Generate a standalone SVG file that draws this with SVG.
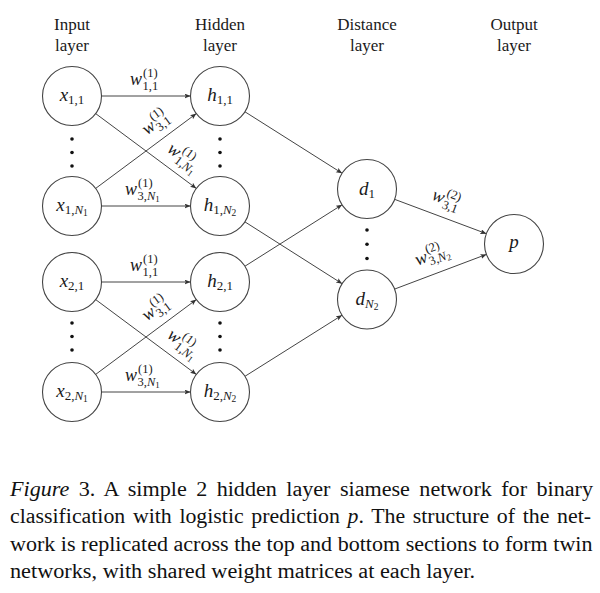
<svg xmlns="http://www.w3.org/2000/svg" width="600" height="593" viewBox="0 0 600 593" font-family="'Liberation Serif', 'DejaVu Serif', serif">
<style>
  text { font-family: "Liberation Serif", "DejaVu Serif", serif; fill: #1a1a1a; }
  .hdr { font-size: 17px; text-anchor: middle; }
  .node circle { fill: #fff; stroke: #444; stroke-width: 1.1; }
  .lbl { font-size: 19px; text-anchor: middle; }
  .i { font-style: italic; }
  .s { font-size: 13px; }
  .ss { font-size: 9.5px; }
  .w { font-size: 18px; }
  .ws { font-size: 12.5px; }
  .wss { font-size: 9px; }
  .conn line { stroke: #444; stroke-width: 1; marker-end: url(#arr); }
  .dots circle { fill: #111; }
  .cap { font-size: 20px; fill: #111; }
</style>
<defs>
  <marker id="arr" markerUnits="userSpaceOnUse" markerWidth="7" markerHeight="6" refX="6" refY="2.5" orient="auto">
    <path d="M0,0 L6,2.5 L0,5 L1.3,2.5 Z" fill="#333"/>
  </marker>
</defs>
<rect width="600" height="593" fill="#fff"/>

<g id="headers">
  <text class="hdr" x="72" y="30">Input</text>
  <text class="hdr" x="72" y="51">layer</text>
  <text class="hdr" x="220" y="30">Hidden</text>
  <text class="hdr" x="220" y="51">layer</text>
  <text class="hdr" x="367" y="30">Distance</text>
  <text class="hdr" x="367" y="51">layer</text>
  <text class="hdr" x="514" y="30">Output</text>
  <text class="hdr" x="514" y="51">layer</text>
</g>

<g id="connectors" class="conn">
  <line x1="101.5" y1="96" x2="190.5" y2="96"/>
  <line x1="95.68" y1="113.6" x2="196.32" y2="188.4"/>
  <line x1="95.68" y1="188.4" x2="196.32" y2="113.6"/>
  <line x1="101.5" y1="206" x2="190.5" y2="206"/>
  <line x1="101.5" y1="282" x2="190.5" y2="282"/>
  <line x1="95.68" y1="299.6" x2="196.32" y2="374.4"/>
  <line x1="95.68" y1="374.4" x2="196.32" y2="299.6"/>
  <line x1="101.5" y1="392" x2="190.5" y2="392"/>
  <line x1="244.93" y1="111.77" x2="342.07" y2="173.23"/>
  <line x1="244.93" y1="266.23" x2="342.07" y2="204.77"/>
  <line x1="244.89" y1="221.83" x2="342.11" y2="283.67"/>
  <line x1="244.97" y1="376.29" x2="342.03" y2="315.21"/>
  <line x1="394.63" y1="199.34" x2="486.37" y2="233.66"/>
  <line x1="394.6" y1="289.08" x2="486.4" y2="254.42"/>
</g>

<g id="weights">
  <g transform="translate(130,85)"><text class="w i" x="0" y="0">w</text><text class="ws" x="12.5" y="4.5">1,1</text><text class="ws" x="13" y="-8">(1)</text></g>
  <g transform="translate(147,135.5) rotate(-36.6)"><text class="w i" x="0" y="0">w</text><text class="ws" x="12.5" y="4.5">3,1</text><text class="ws" x="13" y="-8">(1)</text></g>
  <g transform="translate(166.2,151) rotate(36.6)"><text class="w i" x="0" y="0">w</text><text class="ws" x="12.5" y="4.5">1,<tspan class="i">N</tspan><tspan class="wss" dy="2">1</tspan></text><text class="ws" x="13" y="-8">(1)</text></g>
  <g transform="translate(125,195)"><text class="w i" x="0" y="0">w</text><text class="ws" x="12.5" y="4.5">3,<tspan class="i">N</tspan><tspan class="wss" dy="2">1</tspan></text><text class="ws" x="13" y="-8">(1)</text></g>

  <g transform="translate(130,271)"><text class="w i" x="0" y="0">w</text><text class="ws" x="12.5" y="4.5">1,1</text><text class="ws" x="13" y="-8">(1)</text></g>
  <g transform="translate(147,321.5) rotate(-36.6)"><text class="w i" x="0" y="0">w</text><text class="ws" x="12.5" y="4.5">3,1</text><text class="ws" x="13" y="-8">(1)</text></g>
  <g transform="translate(166.2,337) rotate(36.6)"><text class="w i" x="0" y="0">w</text><text class="ws" x="12.5" y="4.5">1,<tspan class="i">N</tspan><tspan class="wss" dy="2">1</tspan></text><text class="ws" x="13" y="-8">(1)</text></g>
  <g transform="translate(125,381)"><text class="w i" x="0" y="0">w</text><text class="ws" x="12.5" y="4.5">3,<tspan class="i">N</tspan><tspan class="wss" dy="2">1</tspan></text><text class="ws" x="13" y="-8">(1)</text></g>

  <g transform="translate(431,199.3) rotate(20.5)"><text class="w i" x="0" y="0">w</text><text class="ws" x="12.5" y="4.5">3,1</text><text class="ws" x="13" y="-8">(2)</text></g>
  <g transform="translate(417.5,265.7) rotate(-20.7)"><text class="w i" x="0" y="0">w</text><text class="ws" x="12.5" y="4.5">3,<tspan class="i">N</tspan><tspan class="wss" dy="2">2</tspan></text><text class="ws" x="13" y="-8">(2)</text></g>
</g>

<g id="dots" class="dots">
  <circle cx="72" cy="139" r="1.8"/><circle cx="72" cy="152.5" r="1.8"/><circle cx="72" cy="166" r="1.8"/>
  <circle cx="220" cy="139" r="1.8"/><circle cx="220" cy="152.5" r="1.8"/><circle cx="220" cy="166" r="1.8"/>
  <circle cx="72" cy="323" r="1.8"/><circle cx="72" cy="336.5" r="1.8"/><circle cx="72" cy="350" r="1.8"/>
  <circle cx="220" cy="323" r="1.8"/><circle cx="220" cy="336.5" r="1.8"/><circle cx="220" cy="350" r="1.8"/>
  <circle cx="367" cy="230" r="1.8"/><circle cx="367" cy="244.3" r="1.8"/><circle cx="367" cy="258.5" r="1.8"/>
</g>

<g id="x11" class="node"><circle cx="72" cy="96" r="29.5"/><text class="lbl" x="72" y="100.5"><tspan class="i">x</tspan><tspan class="s" dy="3">1,1</tspan></text></g>
<g id="x1N1" class="node"><circle cx="72" cy="206" r="29.5"/><text class="lbl" x="72" y="210.5"><tspan class="i">x</tspan><tspan class="s" dy="3">1,</tspan><tspan class="s i">N</tspan><tspan class="ss" dy="2">1</tspan></text></g>
<g id="x21" class="node"><circle cx="72" cy="282" r="29.5"/><text class="lbl" x="72" y="286.5"><tspan class="i">x</tspan><tspan class="s" dy="3">2,1</tspan></text></g>
<g id="x2N1" class="node"><circle cx="72" cy="392" r="29.5"/><text class="lbl" x="72" y="396.5"><tspan class="i">x</tspan><tspan class="s" dy="3">2,</tspan><tspan class="s i">N</tspan><tspan class="ss" dy="2">1</tspan></text></g>

<g id="h11" class="node"><circle cx="220" cy="96" r="29.5"/><text class="lbl" x="220" y="101"><tspan class="i">h</tspan><tspan class="s" dy="3">1,1</tspan></text></g>
<g id="h1N2" class="node"><circle cx="220" cy="206" r="29.5"/><text class="lbl" x="220" y="211"><tspan class="i">h</tspan><tspan class="s" dy="3">1,</tspan><tspan class="s i">N</tspan><tspan class="ss" dy="2">2</tspan></text></g>
<g id="h21" class="node"><circle cx="220" cy="282" r="29.5"/><text class="lbl" x="220" y="287"><tspan class="i">h</tspan><tspan class="s" dy="3">2,1</tspan></text></g>
<g id="h2N2" class="node"><circle cx="220" cy="392" r="29.5"/><text class="lbl" x="220" y="397"><tspan class="i">h</tspan><tspan class="s" dy="3">2,</tspan><tspan class="s i">N</tspan><tspan class="ss" dy="2">2</tspan></text></g>

<g id="d1" class="node"><circle cx="367" cy="189" r="29.5"/><text class="lbl" x="367" y="194.5"><tspan class="i">d</tspan><tspan class="s" dy="3">1</tspan></text></g>
<g id="dN2" class="node"><circle cx="367" cy="299.5" r="29.5"/><text class="lbl" x="367" y="305"><tspan class="i">d</tspan><tspan class="s i" dy="3">N</tspan><tspan class="ss" dy="2">2</tspan></text></g>

<g id="p" class="node"><circle cx="514" cy="244" r="29.5"/><text class="lbl i" x="514" y="248">p</text></g>

<g id="caption">
  <text class="cap" x="10" y="495.5" textLength="583" lengthAdjust="spacingAndGlyphs" word-spacing="3.5"><tspan class="i">Figure</tspan> 3. A simple 2 hidden layer siamese network for binary</text>
  <text class="cap" x="10" y="523" textLength="581" lengthAdjust="spacingAndGlyphs" word-spacing="2">classification with logistic prediction <tspan class="i">p</tspan>. The structure of the net-</text>
  <text class="cap" x="10" y="550.5" textLength="582.5" lengthAdjust="spacingAndGlyphs">work is replicated across the top and bottom sections to form twin</text>
  <text class="cap" x="10" y="578" textLength="465" lengthAdjust="spacingAndGlyphs">networks, with shared weight matrices at each layer.</text>
</g>
</svg>
